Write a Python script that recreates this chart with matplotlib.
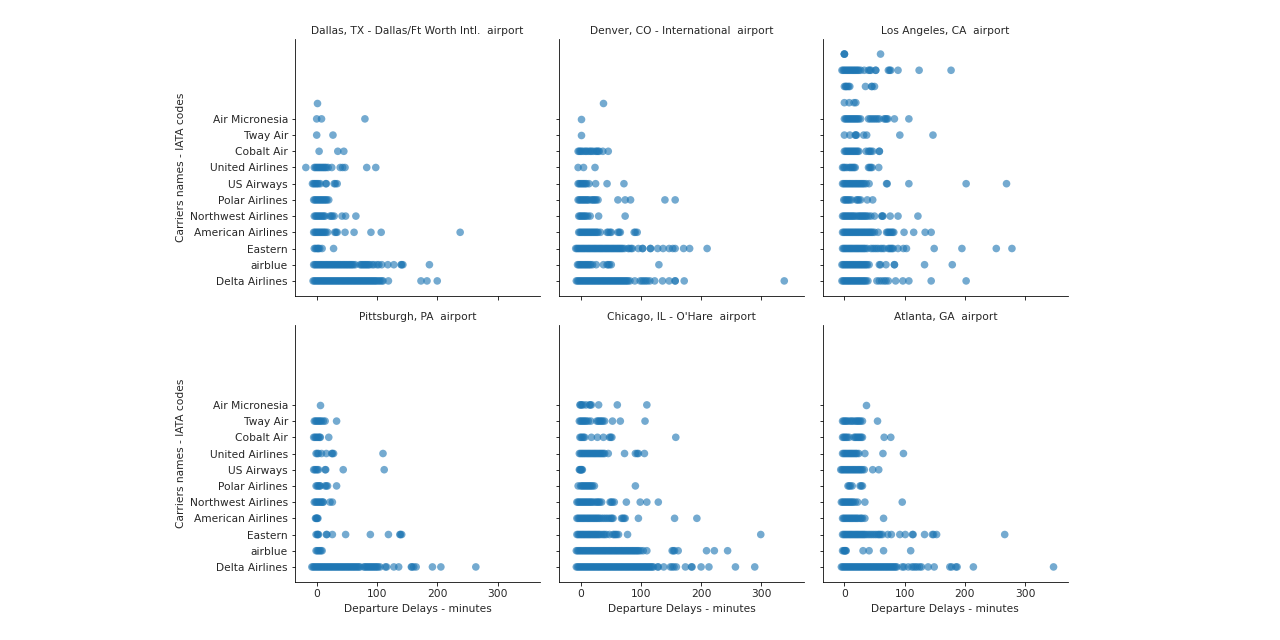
import matplotlib
matplotlib.use('Agg')
import matplotlib.pyplot as plt

carriers = ['Delta Airlines', 'airblue', 'Eastern', 'American Airlines', 'Northwest Airlines',
            'Polar Airlines', 'US Airways', 'United Airlines', 'Cobalt Air', 'Tway Air', 'Air Micronesia']

airports = ['Dallas, TX - Dallas/Ft Worth Intl.  airport', 'Denver, CO - International  airport',
            'Los Angeles, CA  airport', 'Pittsburgh, PA  airport',
            "Chicago, IL - O'Hare  airport", 'Atlanta, GA  airport']

# delays per carrier row, bottom row first
dallas = [
    [-6, -4, -2, 0, 2, 4, 6, 8, 10, 12, 14, 16, 18, 20, 22, 24, 26, 28, 30, 32, 34, 36, 38, 40, 42, 44, 46, 48, 50, 52, 54, 56, 58, 60, 62, 64, 66, 68, 70, 72, 74, 76, 78, 80, 82, 84, 86, 88, 90, 92, 94, 96, 98, 100, 103, 105, 108, 110, 119, 173, 183, 200],
    [-5, -3, -1, 1, 3, 5, 7, 9, 11, 13, 15, 17, 19, 21, 23, 25, 27, 29, 31, 33, 35, 37, 39, 41, 43, 45, 47, 49, 51, 53, 55, 57, 59, 61, 64, 72, 74, 76, 78, 80, 82, 84, 86, 88, 92, 95, 100, 103, 108, 118, 128, 140, 141, 143, 187],
    [-4, -2, 0, 2, 3, 5, 9, 28],
    [-5, -3, -1, 1, 3, 5, 7, 9, 11, 13, 15, 18, 30, 32, 34, 47, 62, 90, 107, 238],
    [-4, -2, 0, 2, 4, 6, 8, 10, 12, 14, 22, 24, 26, 29, 42, 48, 65],
    [-5, -3, -1, 1, 3, 5, 7, 9, 11, 13, 15, 17, 20],
    [-7, -5, -3, -1, 1, 3, 6, 15, 16, 29, 31, 34],
    [-18, -4, -2, 0, 2, 4, 6, 8, 10, 12, 14, 16, 19, 25, 39, 43, 47, 83, 98],
    [4, 35, 45],
    [0, 27],
    [0, 8, 80],
    [0],
]
denver = [
    [-7, -5, -3, -1, 1, 3, 5, 7, 9, 11, 13, 15, 17, 19, 21, 23, 25, 27, 29, 31, 33, 35, 37, 39, 41, 43, 45, 47, 49, 51, 53, 55, 57, 59, 61, 63, 65, 67, 69, 71, 73, 75, 77, 79, 82, 90, 99, 102, 105, 108, 111, 115, 123, 136, 147, 157, 157, 172, 338],
    [-5, -3, -1, 1, 3, 5, 7, 9, 11, 13, 15, 17, 20, 26, 38, 44, 46, 48, 51, 130],
    [-8, -6, -4, -2, 0, 2, 4, 6, 8, 10, 12, 14, 16, 18, 20, 22, 24, 26, 28, 30, 32, 34, 36, 38, 40, 42, 44, 46, 48, 50, 52, 54, 56, 58, 60, 62, 64, 66, 68, 70, 73, 79, 81, 84, 86, 96, 103, 103, 116, 116, 128, 137, 147, 153, 157, 171, 181, 210],
    [-3, -1, 1, 3, 5, 7, 9, 11, 13, 15, 17, 19, 21, 23, 25, 27, 29, 33, 44, 46, 49, 51, 62, 64, 66, 89, 91, 94],
    [-3, -1, 1, 3, 5, 7, 9, 12, 16, 30, 74],
    [-4, -2, 0, 2, 4, 6, 8, 10, 12, 14, 18, 20, 22, 24, 26, 29, 62, 74, 83, 140, 157],
    [-4, -2, 0, 2, 4, 6, 8, 10, 14, 25, 44, 72],
    [-4, 5, 24],
    [-4, -2, 0, 2, 5, 8, 10, 13, 16, 18, 21, 25, 27, 29, 31, 37, 46],
    [0],
    [0],
    [37],
]
los_angeles = [
    [-4, -2, 0, 2, 4, 6, 8, 10, 12, 14, 16, 18, 20, 22, 24, 26, 28, 30, 32, 34, 36, 39, 54, 58, 62, 66, 69, 73, 85, 97, 107, 144, 202],
    [-4, -2, 0, 2, 4, 6, 8, 10, 12, 14, 16, 18, 20, 22, 24, 26, 28, 30, 32, 34, 36, 38, 41, 58, 60, 69, 83, 83, 133, 179],
    [-3, -1, 1, 3, 5, 7, 9, 11, 13, 15, 17, 19, 21, 23, 25, 27, 29, 31, 33, 35, 38, 44, 47, 50, 53, 56, 60, 63, 66, 73, 75, 77, 79, 81, 89, 98, 103, 149, 195, 252, 278],
    [-3, -1, 1, 3, 5, 7, 9, 11, 13, 15, 17, 19, 21, 23, 25, 27, 29, 31, 33, 35, 37, 39, 41, 43, 45, 47, 50, 56, 70, 72, 74, 76, 78, 80, 82, 99, 115, 134, 144],
    [-3, -1, 1, 3, 5, 7, 9, 11, 13, 15, 17, 20, 23, 25, 27, 29, 31, 33, 35, 37, 40, 44, 50, 62, 63, 64, 76, 89, 122],
    [-1, 1, 3, 5, 7, 9, 12, 20, 22, 24, 27, 38, 47],
    [-3, -1, 1, 3, 5, 7, 9, 11, 13, 15, 17, 19, 21, 23, 25, 27, 29, 31, 33, 36, 41, 70, 71, 107, 202, 269],
    [-3, -1, 1, 4, 8, 10, 12, 14, 16, 18, 40, 42, 44, 46, 57],
    [0, 2, 4, 6, 8, 10, 12, 14, 16, 18, 20, 22, 24, 36, 40, 42, 44, 47, 58, 58],
    [0, 9, 18, 19, 20, 32, 37, 92, 147],
    [0, 2, 4, 6, 8, 10, 12, 14, 16, 18, 20, 22, 24, 27, 40, 43, 46, 49, 52, 55, 58, 66, 68, 70, 72, 83, 107],
    [0, 8, 16, 19],
    [0, 2, 3, 5, 7, 9, 35, 45, 46, 50],
    [-4, -2, 0, 2, 4, 6, 8, 10, 12, 14, 16, 18, 20, 22, 24, 27, 33, 40, 42, 44, 52, 52, 73, 75, 77, 89, 124, 177],
    [0, 0, 0, 60],
]
pittsburgh = [
    [-8, -6, -4, -2, 0, 2, 4, 6, 8, 10, 12, 14, 16, 18, 20, 22, 24, 26, 28, 30, 32, 34, 36, 38, 40, 42, 44, 46, 48, 50, 52, 54, 56, 58, 60, 62, 64, 66, 68, 70, 72, 78, 80, 82, 84, 86, 88, 90, 92, 94, 96, 98, 100, 102, 105, 114, 116, 128, 136, 157, 158, 161, 165, 192, 206, 264],
    [-1, 1, 3, 5, 7, 9],
    [-1, 1, 2, 3, 16, 17, 26, 48, 89, 119, 138, 139, 141],
    [-2, -1, 0, 1, 2],
    [-4, -2, 0, 2, 4, 6, 8, 10, 11, 22, 26],
    [-1, 1, 3, 5, 6, 14, 16, 18, 33],
    [-5, -3, -1, 1, 3, 14, 15, 44, 112],
    [-1, 1, 3, 8, 16, 25, 26, 28, 110],
    [-5, -3, -1, 1, 3, 5, 6, 20],
    [-4, -2, 0, 2, 4, 6, 8, 11, 14, 33],
    [6],
]
chicago = [
    [-7, -5, -3, -1, 1, 3, 5, 7, 9, 11, 13, 15, 17, 19, 21, 23, 25, 27, 29, 31, 33, 35, 37, 39, 41, 43, 45, 47, 49, 51, 53, 55, 57, 59, 61, 63, 65, 67, 69, 71, 73, 75, 77, 79, 81, 83, 85, 87, 89, 91, 93, 95, 97, 99, 101, 103, 105, 107, 109, 111, 113, 115, 117, 119, 121, 128, 129, 138, 149, 152, 155, 159, 174, 184, 185, 200, 213, 257, 289],
    [-7, -5, -3, -1, 1, 3, 5, 7, 9, 11, 13, 15, 17, 19, 21, 23, 25, 27, 29, 31, 33, 35, 37, 39, 41, 43, 45, 47, 49, 51, 53, 55, 57, 59, 61, 63, 65, 67, 69, 71, 73, 75, 77, 79, 81, 83, 85, 87, 89, 91, 93, 95, 97, 100, 104, 110, 152, 154, 156, 162, 209, 222, 244],
    [-6, -4, -2, 0, 2, 4, 6, 8, 10, 12, 14, 16, 18, 20, 22, 24, 26, 28, 30, 32, 35, 38, 40, 43, 48, 54, 56, 58, 60, 63, 78, 299],
    [-6, -4, -2, 0, 2, 4, 6, 8, 10, 12, 14, 16, 18, 20, 22, 24, 26, 28, 30, 32, 35, 38, 41, 44, 47, 50, 52, 54, 68, 70, 72, 74, 96, 156, 193],
    [-6, -4, -2, 0, 2, 4, 6, 8, 10, 12, 14, 16, 18, 20, 23, 26, 28, 30, 32, 35, 49, 51, 53, 56, 76, 99, 110, 129],
    [-4, 0, 2, 4, 6, 8, 10, 12, 14, 16, 18, 20, 23, 91],
    [-2, -1, 0, 1, 2, 3],
    [-2, 0, 2, 4, 6, 8, 10, 12, 14, 16, 18, 20, 22, 24, 26, 28, 30, 32, 34, 36, 38, 40, 46, 73, 91, 94, 96, 106],
    [-1, 1, 3, 5, 7, 18, 28, 38, 48, 50, 52, 158],
    [-2, 0, 2, 4, 6, 8, 10, 13, 17, 27, 29, 31, 33, 35, 37, 40, 53, 66, 107],
    [-1, 0, 2, 4, 9, 15, 16, 18, 30, 61, 110],
]
atlanta = [
    [-5, -3, -1, 1, 3, 5, 7, 9, 11, 13, 15, 17, 19, 21, 23, 25, 27, 29, 31, 33, 35, 37, 39, 41, 43, 45, 47, 49, 51, 53, 55, 57, 59, 61, 63, 65, 67, 69, 71, 73, 75, 77, 79, 81, 83, 85, 87, 96, 99, 106, 112, 115, 118, 121, 125, 128, 139, 149, 175, 178, 185, 187, 214, 347],
    [-3, -1, 0, 1, 2, 3, 31, 41, 65, 110],
    [-3, -1, 1, 3, 5, 7, 9, 11, 13, 15, 17, 19, 21, 23, 25, 27, 29, 31, 33, 35, 38, 41, 44, 47, 50, 53, 56, 58, 60, 63, 72, 78, 92, 101, 113, 114, 133, 146, 148, 153, 266],
    [-3, -1, 1, 3, 5, 7, 9, 11, 13, 15, 17, 19, 21, 23, 26, 28, 30, 34, 65],
    [-5, -3, -1, 1, 3, 5, 7, 9, 11, 13, 15, 18, 22, 34, 96],
    [6, 8, 10, 13, 26, 28, 30],
    [-6, -4, -2, 0, 2, 4, 6, 8, 10, 12, 14, 16, 18, 20, 22, 24, 26, 28, 30, 33, 47, 57],
    [-3, -1, 1, 3, 5, 7, 9, 11, 13, 15, 17, 19, 21, 24, 34, 64, 98],
    [-3, -1, 1, 3, 5, 8, 16, 18, 20, 22, 24, 26, 28, 30, 66, 77],
    [-3, -1, 1, 3, 5, 8, 11, 13, 16, 19, 21, 23, 25, 27, 30, 55],
    [36],
]
delays = [dallas, denver, los_angeles, pittsburgh, chicago, atlanta]

text_color = '#262626'
plt.rcParams['font.size'] = 10.6
plt.rcParams['text.color'] = text_color
plt.rcParams['axes.labelcolor'] = text_color
plt.rcParams['xtick.labelcolor'] = text_color
plt.rcParams['ytick.labelcolor'] = text_color

fig, axes = plt.subplots(2, 3, sharex=True, sharey=True, figsize=(1280 / 72, 640 / 72), dpi=72)
fig.subplots_adjust(left=295 / 1280, right=1068 / 1280, top=1 - 39 / 640, bottom=1 - 582 / 640,
                    wspace=0.0755, hspace=0.113)

for ax, name, rows in zip(axes.flat, airports, delays):
    for y, xs in enumerate(rows):
        # per-point sizes keep the discs from being stamped on whole pixels
        ax.scatter(xs, [y] * len(xs), s=[58] * len(xs), alpha=0.62, linewidths=0, color='#1f77b4')
    ax.set_title(name, fontsize=10.6, pad=5.5)
    ax.spines['top'].set_visible(False)
    ax.spines['right'].set_visible(False)

axes[0, 0].set_xlim(-36, 371)
axes[0, 0].set_ylim(-0.93, 14.93)
axes[0, 0].set_xticks([0, 100, 200, 300])
axes[0, 0].set_yticks(range(len(carriers)))
axes[0, 0].set_yticklabels(carriers)

for ax in axes[1]:
    ax.set_xlabel('Departure Delays - minutes', labelpad=5)
for ax in axes[:, 0]:
    ax.set_ylabel('Carriers names - IATA codes')

fig.savefig('out.png', dpi=72)
